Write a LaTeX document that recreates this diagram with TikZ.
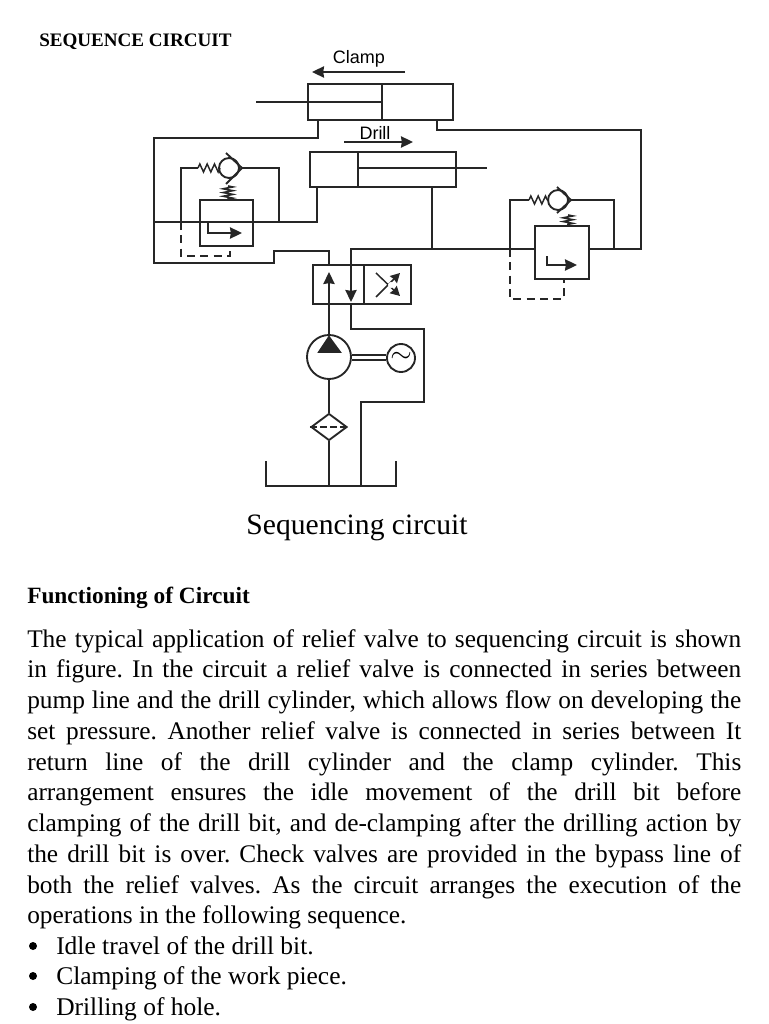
\documentclass[tikz,border=0pt]{standalone}
\usepackage{fontspec}
\setmainfont{Liberation Serif}
\setsansfont{Liberation Sans}
\usepackage{tikz}
\usetikzlibrary{shapes.geometric, arrows.meta, decorations.pathmorphing}
\def\px{0.75pt}
\tikzset{
  line/.style={line width=1.4pt, black!85},
  thinline/.style={line width=1.1pt, black!85},
  pilot/.style={line width=1.1pt, black!85, dash pattern=on 6pt off 4pt},
  spring/.style={line width=1.1pt, black!85, decorate, decoration={zigzag, segment length=5.5pt, amplitude=3pt}},
  coil/.style={line width=1.2pt, black!85, decorate, decoration={zigzag, segment length=2.8pt, amplitude=3.6pt}},
  block/.style={draw, line, inner sep=0pt, minimum width=#1*\px},
  tip/.style={-{Stealth[inset=0.6pt, length=9pt, width=8.5pt]}},
  smalltip/.style={-{Stealth[inset=0.5pt, length=7pt, width=7.5pt]}},
  body/.style={anchor=north west, inner sep=0pt, align=justify, font=\fontsize{19}{23.06}\selectfont}
}
\begin{document}
\begin{tikzpicture}[x=0.75pt, y=-0.75pt]
    \useasboundingbox (0,0) rectangle (768,1024);

    % Cylinders
    \node[block=145, minimum height=36*\px] (clampcyl) at (380.5,102) {};
    \node[block=146, minimum height=35*\px] (drillcyl) at (383,169.5) {};
    \coordinate (clamprod) at (256,102);
    \coordinate (clamppis) at (382,102);
    \coordinate (drillrod) at (487,168);
    \coordinate (drillpis) at (358,168);
    \draw[line] (clamppis |- clampcyl.north) -- (clamppis |- clampcyl.south);
    \draw[line] (drillpis |- drillcyl.north) -- (drillpis |- drillcyl.south);
    \draw[thinline] (clamprod) -- (clamppis);
    \draw[thinline] (drillpis) -- (drillrod);

    % Direction arrows
    \node[inner sep=0pt, font=\sffamily\fontsize{13.5}{15}\selectfont] (clamplabel) at (359,59) {Clamp};
    \node[inner sep=0pt, font=\sffamily\fontsize{13.5}{15}\selectfont] (drilllabel) at (375,133) {Drill};
    \coordinate (clampa) at (405,72);
    \coordinate (clampb) at (312,72);
    \coordinate (drilla) at (344,142);
    \coordinate (drillb) at (413,142);
    \draw[line, tip] (clampa) -- (clampb);
    \draw[line, tip] (drilla) -- (drillb);

    % Control valve, pump, motor, filter
    \node[block=98, minimum height=39*\px] (valve) at (362,284.5) {};
    \node[draw, line, circle, inner sep=0pt, minimum size=44*\px] (pump) at (329,357) {};
    \node[draw, line, circle, inner sep=0pt, minimum size=28*\px] (motor) at (401,358) {};
    \node[inner sep=0pt, font=\fontsize{21}{21}\selectfont] (motorsign) at (401,357) {$\sim$};
    \node[draw, line, diamond, inner sep=0pt, minimum width=36*\px, minimum height=27*\px] (filter) at (329,427) {};
    \coordinate (div) at (364,265);
    \draw[line] (div) -- (div |- valve.south);
    \draw[line, dash pattern=on 5pt off 2.5pt] (filter.west) -- (filter.east);
    \draw[line, fill=black!85] (329,337) -- (340,352) -- (319,352) -- cycle;

    % Arrows in the valve
    \coordinate (upa) at (329,304);
    \coordinate (upb) at (329,272);
    \coordinate (downa) at (351,265);
    \coordinate (downb) at (351,302);
    \draw[thinline, tip] (upa) -- (upb);
    \draw[thinline, tip] (downa) -- (downb);
    \draw[thinline, smalltip] (376,297) -- (400,273);
    \draw[thinline, smalltip] (376,273) -- (400,296);
    \fill[white] (391,285) circle (3);

    % Shaft
    \draw[thinline] (pump.east |- 0,355) -- (motor.west |- 0,355);
    \draw[thinline] (pump.east |- 0,360) -- (motor.west |- 0,360);

    % Tank
    \coordinate (tankl) at (266,486);
    \coordinate (tankr) at (396,486);
    \draw[line] (266,461) -- (tankl) -- (tankr) -- (396,461);

    % Pressure and return lines
    \draw[line] (upa) -- (pump.north);
    \draw[line] (pump.south) -- (filter.north);
    \draw[line] (filter.south) -- (329,486);
    \draw[line] (valve.south -| downa) -- (351,329) -- (424,329) -- (424,402) -- (361,402) -- (361,486);

    % Left relief valve
    \node[block=53, minimum height=46*\px] (reliefl) at (226.5,223) {};
    \coordinate (p0) at (181,222);
    \coordinate (p1) at (181,168);
    \coordinate (p2) at (279,168);
    \coordinate (p3) at (279,222);
    \coordinate (p4) at (317,222);
    \coordinate (p5) at (154,222);
    \draw[line] (p5) -- (p4) -- (p4 |- drillcyl.south);
    \draw[line] (p0) -- (p1) -- (198,168);
    \draw[spring] (198,168) -- (220,168);
    \node[draw, line, circle, inner sep=0pt, minimum size=20*\px] (balll) at (229,168) {};
    \draw[line] (226,153) -- (242,168) -- (226,184);
    \draw[line] (242,168) -- (p2) -- (p3);
    \draw[coil] (228,186) -- (228,200);
    \draw[line, tip] (208,223) -- (208,233) -- (242,233);
    \draw[pilot] (p0) -- (181,256) -- (230,256) -- (230,246);

    % Right relief valve
    \node[block=54, minimum height=53*\px] (reliefr) at (562,252.5) {};
    \coordinate (q0) at (510,249);
    \coordinate (q1) at (510,200);
    \coordinate (q2) at (614,200);
    \coordinate (q3) at (614,249);
    \coordinate (q4) at (641,249);
    \coordinate (q5) at (641,130);
    \coordinate (q6) at (437,130);
    \coordinate (q7) at (351,249);
    \coordinate (q8) at (432,249);
    \draw[line] (q7 |- valve.north) -- (q7) -- (reliefr.west |- q7);
    \draw[line] (q8) -- (q8 |- drillcyl.south);
    \draw[line] (reliefr.east |- q4) -- (q4) -- (q5) -- (q6) -- (q6 |- clampcyl.south);
    \draw[line] (q0) -- (q1) -- (529,200);
    \draw[spring] (529,200) -- (549,200);
    \node[draw, line, circle, inner sep=0pt, minimum size=20*\px] (ballr) at (558,200) {};
    \draw[line] (557,187) -- (571,200) -- (557,213);
    \draw[line] (571,200) -- (q2) -- (q3);
    \draw[coil] (568,215) -- (568,226);
    \draw[line, tip] (547,256) -- (547,265) -- (577,265);
    \draw[pilot] (q0) -- (510,299) -- (564,299) -- (564,279);

    % Lines from the clamp cylinder and to the valve
    \coordinate (r0) at (318,138);
    \coordinate (r1) at (154,138);
    \coordinate (r2) at (154,263);
    \coordinate (r3) at (274,263);
    \coordinate (r4) at (274,251);
    \coordinate (r5) at (329,251);
    \draw[line] (r0 |- clampcyl.south) -- (r0) -- (r1) -- (r2) -- (r3) -- (r4) -- (r5) -- (r5 |- valve.north);

    % Text
    \node[anchor=west, inner sep=0pt, font=\bfseries\fontsize{14.3}{16}\selectfont] (title) at (39,42) {SEQUENCE CIRCUIT};
    \node[inner sep=0pt, font=\fontsize{22.2}{25}\selectfont] (caption) at (357,528) {Sequencing circuit};
    \node[anchor=west, inner sep=0pt, font=\bfseries\fontsize{17.5}{20}\selectfont] (heading) at (27,598) {Functioning of Circuit};
    \node[body, text width=714*\px] (para) at (27,629) {\frenchspacing The typical application of relief valve to sequencing circuit is shown\linebreak
      in figure. In the circuit a relief valve is connected in series between\linebreak
      pump line and the drill cylinder, which allows flow on developing the\linebreak
      set pressure. Another relief valve is connected in series between It\linebreak
      return line of the drill cylinder and the clamp cylinder. This\linebreak
      arrangement ensures the idle movement of the drill bit before\linebreak
      clamping of the drill bit, and de-clamping after the drilling action by\linebreak
      the drill bit is over. Check valves are provided in the bypass line of\linebreak
      both the relief valves. As the circuit arranges the execution of the\linebreak
      operations in the following sequence.\hfill\null};
    \foreach \y/\t in {946/Idle travel of the drill bit., 976/Clamping of the work piece., 1007/Drilling of hole.} {
      \node[circle, fill=black, inner sep=0pt, minimum size=8*\px] (bullet\y) at (33,\y) {};
      \node[anchor=base west, inner sep=0pt, font=\fontsize{19.1}{23}\selectfont] (item\y) at (56,\y+8) {\t};
    }
\end{tikzpicture}
\end{document}
